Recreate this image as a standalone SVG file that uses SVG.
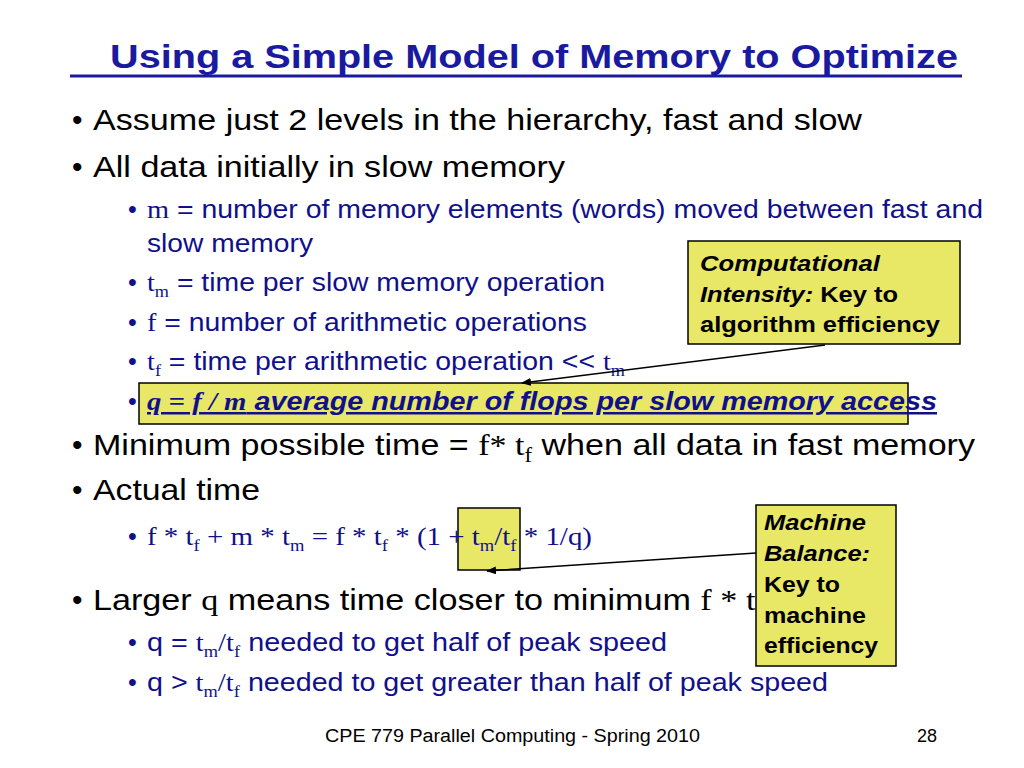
<svg xmlns="http://www.w3.org/2000/svg" width="1024" height="768" viewBox="0 0 1024 768">
<style>
.t{font-family:"Liberation Sans",Arial,sans-serif;font-weight:bold;font-size:33px;fill:#1a1aa0}
.l1{font-family:"Liberation Sans",Arial,sans-serif;font-size:30px;fill:#000}
.l2{font-family:"Liberation Sans",Arial,sans-serif;font-size:25px;fill:#10108c}
.s{font-family:"Liberation Serif","Times New Roman",serif}
.bx{fill:#e8e866;stroke:#000;stroke-width:1.5}
.bt{font-family:"Liberation Sans",Arial,sans-serif;font-size:22px;font-weight:bold;fill:#000}
.ft{font-family:"Liberation Sans",Arial,sans-serif;font-size:18px;fill:#000}
</style>
<defs><marker id="a" markerWidth="10" markerHeight="8" refX="9" refY="4" orient="auto" markerUnits="userSpaceOnUse"><path d="M0,0 L10,4 L0,8 Z" fill="#000"/></marker></defs>
<rect width="1024" height="768" fill="#fff"/>
<g id="title"><text class="t" x="110" y="68" textLength="848" lengthAdjust="spacingAndGlyphs">Using a Simple Model of Memory to Optimize</text><line x1="70" y1="76" x2="962" y2="76" stroke="#1a1aa0" stroke-width="3"/></g>
<g id="hl1"><rect class="bx" x="139" y="383" width="769" height="41"/></g>
<g id="hl2"><rect class="bx" x="458" y="508" width="62" height="62"/></g>
<g id="bullets">
<text class="l1" x="72" y="130">•</text><text class="l1" x="72" y="177">•</text><text class="l1" x="72" y="455">•</text><text class="l1" x="72" y="500">•</text><text class="l1" x="72" y="610">•</text>
<text class="l2" x="128" y="218">•</text><text class="l2" x="128" y="291">•</text><text class="l2" x="128" y="331">•</text><text class="l2" x="128" y="370">•</text><text class="l2" x="128" y="410">•</text><text class="l2" x="128" y="545">•</text><text class="l2" x="128" y="651">•</text><text class="l2" x="128" y="691">•</text>
</g>
<g id="body">
<text class="l1" x="93" y="130" textLength="769" lengthAdjust="spacingAndGlyphs">Assume just 2 levels in the hierarchy, fast and slow</text>
<text class="l1" x="93" y="177" textLength="472" lengthAdjust="spacingAndGlyphs">All data initially in slow memory</text>
<text class="l2" x="147" y="218" textLength="836" lengthAdjust="spacingAndGlyphs"><tspan class="s">m</tspan> = number of memory elements (words) moved between fast and</text>
<text class="l2" x="147" y="252" textLength="166" lengthAdjust="spacingAndGlyphs">slow memory</text>
<text class="l2" x="147" y="291" textLength="458" lengthAdjust="spacingAndGlyphs"><tspan class="s">t<tspan font-size="16" dy="6">m</tspan></tspan><tspan dy="-6"> = time per slow memory operation</tspan></text>
<text class="l2" x="147" y="331" textLength="440" lengthAdjust="spacingAndGlyphs"><tspan class="s">f</tspan> = number of arithmetic operations</text>
<text class="l2" x="147" y="370" textLength="478" lengthAdjust="spacingAndGlyphs"><tspan class="s">t<tspan font-size="16" dy="6">f</tspan></tspan><tspan dy="-6"> = time per arithmetic operation &lt;&lt; </tspan><tspan class="s">t<tspan font-size="16" dy="6">m</tspan></tspan></text>
<text class="l2" x="147" y="410" textLength="790" lengthAdjust="spacingAndGlyphs" font-weight="bold" font-style="italic" text-decoration="underline"><tspan class="s">q = f / m</tspan>   average number of flops per slow memory access</text>
<text class="l1" x="93" y="455" textLength="882" lengthAdjust="spacingAndGlyphs">Minimum possible time = <tspan class="s">f* t<tspan font-size="20" dy="7">f</tspan></tspan><tspan dy="-7"> when all data in fast memory</tspan></text>
<text class="l1" x="93" y="500" textLength="167" lengthAdjust="spacingAndGlyphs">Actual time</text>
<text class="l2" x="147" y="545" textLength="445" lengthAdjust="spacingAndGlyphs"><tspan class="s">f * t<tspan font-size="16" dy="6">f</tspan><tspan dy="-6"> + m * t</tspan><tspan font-size="16" dy="6">m</tspan><tspan dy="-6"> = f * t</tspan><tspan font-size="16" dy="6">f</tspan><tspan dy="-6"> * (1 + t</tspan><tspan font-size="16" dy="6">m</tspan><tspan dy="-6">/t</tspan><tspan font-size="16" dy="6">f</tspan><tspan dy="-6">   * 1/q)</tspan></tspan></text>
<text class="l1" x="93" y="610" textLength="670" lengthAdjust="spacingAndGlyphs">Larger <tspan class="s">q</tspan> means time closer to minimum <tspan class="s">f * t<tspan font-size="20" dy="7">f</tspan></tspan></text>
<text class="l2" x="147" y="651" textLength="520" lengthAdjust="spacingAndGlyphs">q = <tspan class="s">t<tspan font-size="16" dy="6">m</tspan><tspan dy="-6">/t</tspan><tspan font-size="16" dy="6">f</tspan></tspan><tspan dy="-6">  needed to get half of peak speed</tspan></text>
<text class="l2" x="147" y="691" textLength="681" lengthAdjust="spacingAndGlyphs">q &gt; <tspan class="s">t<tspan font-size="16" dy="6">m</tspan><tspan dy="-6">/t</tspan><tspan font-size="16" dy="6">f</tspan></tspan><tspan dy="-6">  needed to get greater than half of peak speed</tspan></text>
</g>
<g id="ci"><rect class="bx" x="688" y="241" width="272" height="103"/>
<text class="bt" x="700" y="271" font-style="italic" textLength="180" lengthAdjust="spacingAndGlyphs">Computational</text>
<text class="bt" x="700" y="302" textLength="198" lengthAdjust="spacingAndGlyphs"><tspan font-style="italic">Intensity:</tspan> Key to</text>
<text class="bt" x="700" y="332" textLength="240" lengthAdjust="spacingAndGlyphs">algorithm efficiency</text></g>
<g id="mb"><rect class="bx" x="756" y="505" width="140" height="161"/>
<text class="bt" x="764" y="530" font-style="italic" textLength="102" lengthAdjust="spacingAndGlyphs">Machine</text>
<text class="bt" x="764" y="561" font-style="italic" textLength="106" lengthAdjust="spacingAndGlyphs">Balance:</text>
<text class="bt" x="764" y="592" textLength="76" lengthAdjust="spacingAndGlyphs">Key to</text>
<text class="bt" x="764" y="623" textLength="102" lengthAdjust="spacingAndGlyphs">machine</text>
<text class="bt" x="764" y="653" textLength="114" lengthAdjust="spacingAndGlyphs">efficiency</text></g>
<g id="connectors" stroke="#000" stroke-width="1.5">
<line x1="825" y1="345" x2="522" y2="383" marker-end="url(#a)"/>
<line x1="756" y1="553" x2="487" y2="571" marker-end="url(#a)"/>
</g>
<g id="footer"><text class="ft" x="325" y="742" textLength="375" lengthAdjust="spacingAndGlyphs">CPE 779 Parallel Computing - Spring 2010</text><text class="ft" x="917" y="742">28</text></g>
</svg>
